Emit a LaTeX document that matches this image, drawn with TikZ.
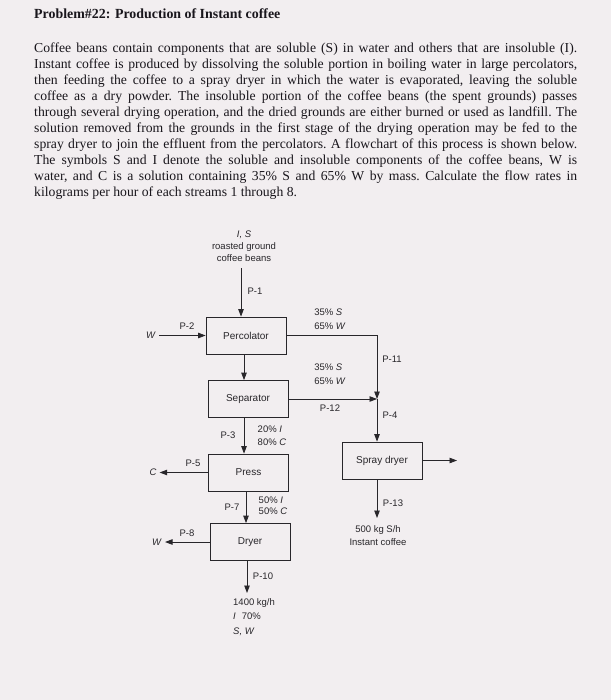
\documentclass[tikz,border=0pt]{standalone}
\usepackage{fontspec}
\setmainfont{Liberation Serif}
\setsansfont{Liberation Sans}
\usetikzlibrary{arrows.meta}
\definecolor{bg}{RGB}{242,238,240}
\definecolor{ink}{RGB}{40,38,42}
\definecolor{txt}{RGB}{25,22,28}
\tikzset{
  unitbox/.style={draw=ink, line width=0.8pt, minimum width=80pt, minimum height=37pt, inner sep=0pt,
     font=\sffamily\fontsize{10}{12}\selectfont, text=ink},
  lbl/.style={font=\sffamily\fontsize{9.5}{11.5}\selectfont, inner sep=0pt, text=ink},
  flow/.style={draw=ink, line width=0.8pt, -{Triangle[length=7.5pt,width=5.5pt]}},
  para/.style={anchor=base west, inner sep=0pt, font=\frenchspacing\fontsize{13.7}{15.9}\selectfont, text=txt},
}
\newcommand{\jline}[1]{\makebox[543pt][s]{#1}}
\begin{document}
\begin{tikzpicture}[x=1pt,y=-1pt]
\fill[bg] (0,0) rectangle (611,700);
\useasboundingbox (0,0) rectangle (611,700);
% title and text
\node[para, font=\bfseries\fontsize{13.9}{15.9}\selectfont] (title) at (34,19) {Problem\#22: Production of Instant coffee};
\node[para] (l1) at (34,53.0) {\jline{Coffee beans contain components that are soluble (S) in water and others that are insoluble (I).}};
\node[para] (l2) at (34,68.9) {\jline{Instant coffee is produced by dissolving the soluble portion in boiling water in large percolators,}};
\node[para] (l3) at (34,84.8) {\jline{then feeding the coffee to a spray dryer in which the water is evaporated, leaving the soluble}};
\node[para] (l4) at (34,100.7) {\jline{coffee as a dry powder. The insoluble portion of the coffee beans (the spent grounds) passes}};
\node[para] (l5) at (34,116.6) {\jline{through several drying operation, and the dried grounds are either burned or used as landfill. The}};
\node[para] (l6) at (34,132.5) {\jline{solution removed from the grounds in the first stage of the drying operation may be fed to the}};
\node[para] (l7) at (34,148.4) {\jline{spray dryer to join the effluent from the percolators. A flowchart of this process is shown below.}};
\node[para] (l8) at (34,164.3) {\jline{The symbols S and I denote the soluble and insoluble components of the coffee beans, W is}};
\node[para] (l9) at (34,180.2) {\jline{water, and C is a solution containing 35\% S and 65\% W by mass. Calculate the flow rates in}};
\node[para] (l10) at (34,196.1) {kilograms per hour of each streams 1 through 8.};
% boxes
\node[unitbox] (perc) at (246,335.5) {Percolator};
\node[unitbox] (sep) at (248,399) {Separator};
\node[unitbox] (press) at (248.5,472.5) {Press};
\node[unitbox] (dryer) at (250,542) {Dryer};
\node[unitbox] (spray) at (382,460.5) {Spray dryer};
% feed
\node[lbl, align=center] (feed) at (244,246) {\textit{I, S}\\[1pt]roasted ground\\coffee beans};
\coordinate (p1s) at (241,268);
\draw[flow] (p1s) -- (p1s |- perc.north);
\node[lbl] (p1) at (255,291) {P-1};
% water in
\node[lbl] (win) at (151,335.5) {\textit{W}};
\draw[flow] ([xshift=3pt]win.east) -- (perc.west);
\node[lbl] (p2) at (187,326) {P-2};
% junction
\coordinate (J) at (377,399);
\draw[flow] (perc.east) -| (J);
\draw[flow] (sep.east) -- (J);
\draw[flow] (J) -- (J |- spray.north);
\node[lbl, align=left] (c11) at (330,319) {35\% \textit{S}\\[2pt]65\% \textit{W}};
\node[lbl] (p11) at (392,359) {P-11};
\node[lbl, align=left] (c12) at (330,374) {35\% \textit{S}\\[2pt]65\% \textit{W}};
\node[lbl] (p12) at (330,408) {P-12};
\node[lbl] (p4) at (390,415) {P-4};
% spray dryer outputs
\coordinate (vap) at (457,460.5);
\draw[flow] (spray.east) -- (vap);
\coordinate (prod) at (377,518);
\draw[flow] (prod |- spray.south) -- (prod);
\node[lbl] (p13) at (393,503) {P-13};
\node[lbl, align=center] (inst) at (378,535.5) {500 kg S/h\\[1pt]Instant coffee};
% vertical chain
\draw[flow] ([xshift=-2pt]perc.south) -- ([xshift=-2pt]perc.south |- sep.north);
\draw[flow] ([xshift=-4pt]sep.south) -- ([xshift=-4pt]sep.south |- press.north);
\node[lbl] (p3) at (228,435) {P-3};
\node[lbl, align=left] (c3) at (272,435.5) {20\% \textit{I}\\[1pt]80\% \textit{C}};
\draw[flow] ([xshift=-2.5pt]press.south) -- ([xshift=-2.5pt]press.south |- dryer.north);
\node[lbl] (p7) at (232,507) {P-7};
\node[lbl, align=left] (c7) at (273,505.5) {50\% \textit{I}\\50\% \textit{C}};
\coordinate (dout) at (247,593);
\draw[flow] (dout |- dryer.south) -- (dout);
\node[lbl] (p10) at (263,576) {P-10};
\node[lbl, anchor=north west, align=left] (res) at (233,598) {1400 kg/h\\[3pt]\textit{I}\hspace{6pt}70\%\\[3pt]\textit{S, W}};
% side outputs
\node[lbl] (cout) at (153,472.5) {\textit{C}};
\draw[flow] (press.west) -- ([xshift=3pt]cout.east);
\node[lbl] (p5) at (193,463) {P-5};
\node[lbl] (wout) at (157,542) {\textit{W}};
\draw[flow] (dryer.west) -- ([xshift=3pt]wout.east);
\node[lbl] (p8) at (187,533) {P-8};
\end{tikzpicture}
\end{document}
